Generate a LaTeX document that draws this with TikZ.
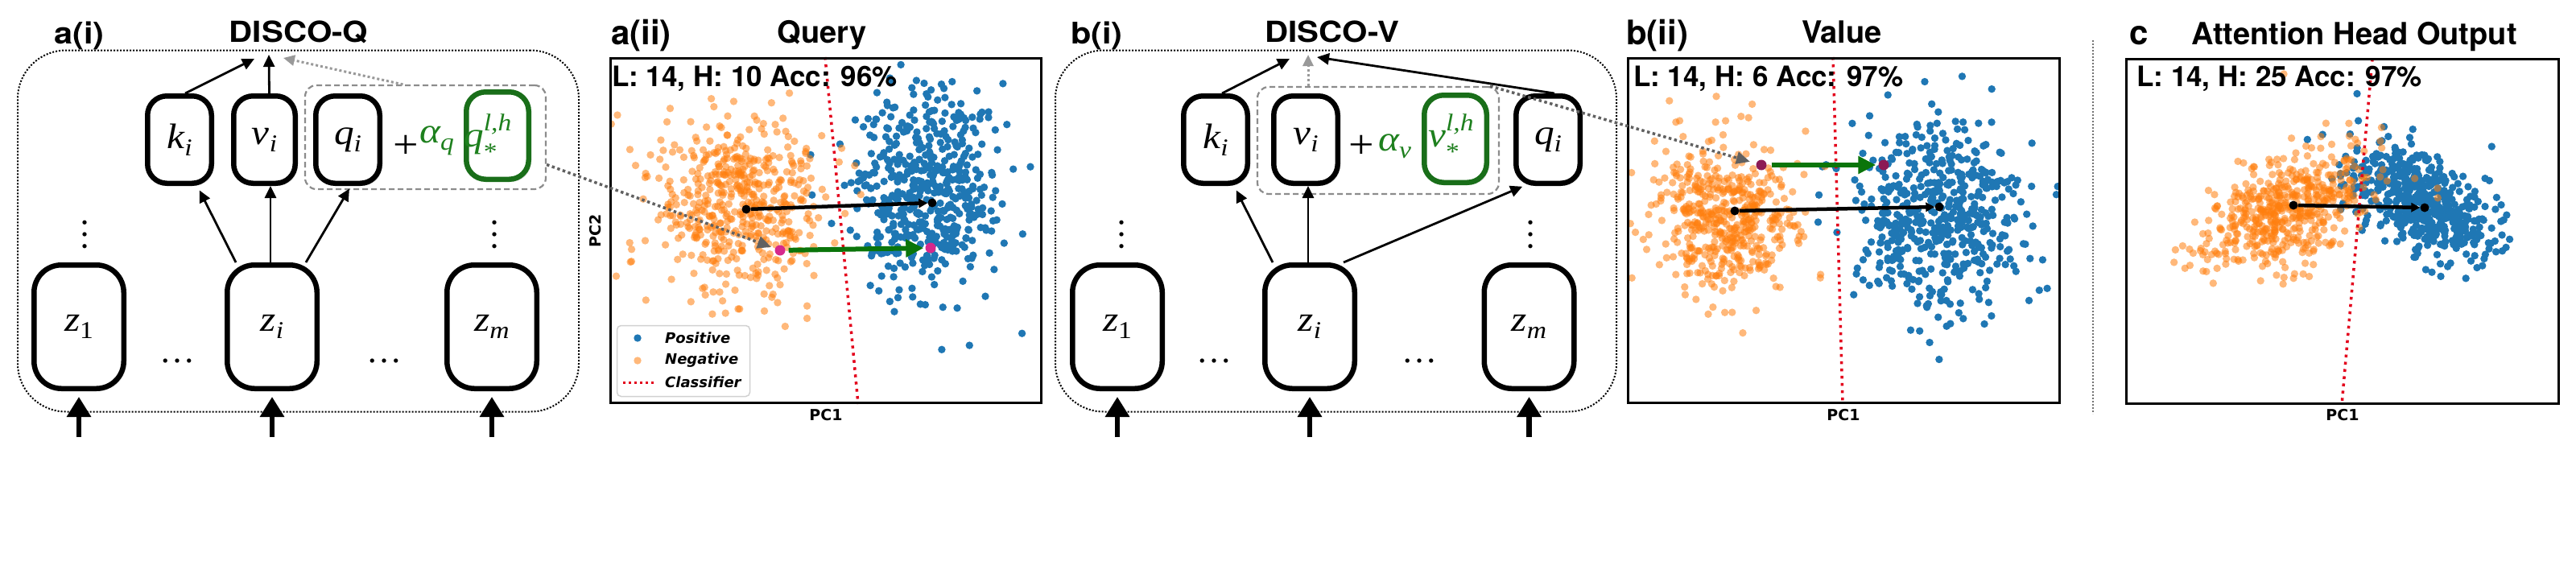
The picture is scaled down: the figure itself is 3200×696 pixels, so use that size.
\documentclass[tikz,border=0pt]{standalone}
\usepackage{fontspec}
\usepackage{graphicx}
\setmainfont{Liberation Serif}
\newfontfamily\hv{TeX Gyre Heros}
\newfontfamily\dv{DejaVu Sans}
\usetikzlibrary{arrows.meta,shadows,calc}
\definecolor{tabblue}{HTML}{1F77B4}
\definecolor{taborange}{HTML}{FF7F0E}
\definecolor{dgreen}{RGB}{25,110,25}
\definecolor{tgreen}{RGB}{30,128,30}
\definecolor{mplgreen}{HTML}{0A750A}
\definecolor{pinkA}{HTML}{D6288C}
\definecolor{pinkB}{HTML}{8C1A55}
\definecolor{clsred}{HTML}{E3001B}
\newcommand\fs[1]{\fontsize{#1}{#1}\selectfont}
\newcommand\hs[1]{\scalebox{1.12}[1]{#1}}
\newcommand\mk[2]{\hs{#1\raisebox{-9pt}{\fs{30}#2}}}
\newcommand\skv[1]{\hs{#1\rlap{\raisebox{20pt}{\fs{30}l,h}}\raisebox{-16pt}{\fs{30}\upshape *}}}
\newcommand{\scattercluster}[8]{%
 \foreach \clI in {1,...,#7}{%
  \pgfmathsetmacro{\clR}{sqrt(-2*ln(max(rnd,0.0005)))}%
  \pgfmathsetmacro{\clT}{360*rnd}%
  \pgfmathsetmacro{\clX}{#1+\clR*cos(\clT)*(#3)+\clR*sin(\clT)*(#5)}%
  \pgfmathsetmacro{\clY}{#2+\clR*cos(\clT)*(#4)+\clR*sin(\clT)*(#6)}%
  \fill[#8] (\clX,\clY) circle (4.7);
 }%
}
\begin{document}
\begin{tikzpicture}[x=1pt,y=-1pt,
 box/.style={draw=black, line width=6.5pt, fill=white, rounded corners=24pt, inner sep=0pt,
   minimum width=79.5pt, minimum height=108.5pt, font=\fs{44}\itshape,
   drop shadow={opacity=0.18, shadow xshift=3pt, shadow yshift=-3pt}},
 zbox/.style={box, rounded corners=34pt, minimum width=111.5pt, minimum height=153.5pt},
 gbox/.style={box, draw=dgreen, minimum width=77.5pt},
 container/.style={draw=black, line width=2pt, dash pattern=on 2pt off 2pt, rounded corners=60pt, inner sep=0pt},
 dashbox/.style={draw=black!45, line width=2.2pt, dash pattern=on 7pt off 4pt, rounded corners=14pt, inner sep=0pt},
 thinarr/.style={line width=2.8pt, -{Triangle[length=15pt,width=14pt]}},
 inarr/.style={line width=6.5pt, -{Triangle[length=25pt,width=29pt]}, shorten >=7pt},
 grayarr/.style={draw=black!40, line width=3pt, dash pattern=on 3pt off 3pt, -{Triangle[length=14pt,width=13pt]}},
 gconn/.style={draw=black!62, line width=3.5pt, dash pattern=on 3.5pt off 3.5pt, -{Triangle[length=17pt,width=15pt]}},
 plotframe/.style={draw=black, line width=3pt, inner sep=0pt},
 cls/.style={draw=clsred, line width=3.5pt, dash pattern=on 3.5pt off 5.5pt},
 bdot/.style={circle, fill=black, inner sep=0pt, minimum size=11pt},
 barr/.style={line width=4.5pt, -{Triangle[length=11pt,width=11pt]}},
 pdot/.style={circle, inner sep=0pt, minimum size=13pt},
 garr/.style={draw=mplgreen, line width=6pt, -{Triangle[length=22pt,width=21pt]}},
 ttl/.style={font=\hv\bfseries\fs{38}, inner sep=0pt},
 dttl/.style={font=\hv\bfseries\fs{36}, inner sep=0pt},
 plab/.style={font=\hv\bfseries\fs{42}, inner sep=0pt},
 stat/.style={font=\hv\bfseries\fs{35}, inner sep=0pt},
 axlab/.style={font=\dv\bfseries\fs{19}, inner sep=0pt},
 legtxt/.style={font=\dv\bfseries\itshape\fs{18}, inner sep=0pt, anchor=west},
 sym/.style={font=\fs{44}, inner sep=0pt},
 gtxt/.style={font=\fs{44}\itshape, text=tgreen, inner sep=0pt, anchor=base west},
 bluept/.style={fill=tabblue},
 orpt/.style={fill=taborange, fill opacity=0.55}
]
\useasboundingbox (0,0) rectangle (3200,696);
\fill[white] (0,0) rectangle (3200,696);
\pgfmathsetseed{7}

% ================= a(i) =================
\node[plab, font=\hv\bfseries\fs{37}, anchor=base west] (labai) at (67,54) {\hs{a(i)}};
\node[dttl, anchor=base] (tq) at (371,52) {\hs{DISCO-Q}};
\node[container, minimum width=697pt, minimum height=449pt] (conta) at (370.5,287) {};
\node[dashbox, minimum width=299pt, minimum height=129pt] (adash) at (528.5,170.5) {};
\node[box] (ka) at (223,173.5) {\mk{k}{i}};
\node[box, minimum width=76.5pt] (va) at (328.5,173.5) {\mk{v}{i}};
\node[box] (qa) at (432,173.5) {\mk{q}{i}};
\node[gbox] (sa) at (618,168.5) {};
\node[gtxt] (sat) at (576,182) {\skv{q}};
\node[sym, font=\fs{50}] (pa) at (504,182) {\hs{+}};
\node[gtxt] (aq) at (521,177) {\mk{α}{q}};
\node[zbox] (z1a) at (98,406) {\mk{z}{\upshape 1}};
\node[zbox] (zia) at (338,406) {\mk{z}{i}};
\node[zbox] (zma) at (611,406) {\mk{z}{m}};
\node[sym, rotate=90, anchor=base] (vd1a) at (107,291) {…};
\node[sym, rotate=90, anchor=base] (vd2a) at (616,291) {…};
\node[sym, anchor=base] (hd1a) at (220,450) {…};
\node[sym, anchor=base] (hd2a) at (477,450) {…};
\coordinate (aK) at (316,73);
\coordinate (aV) at (334,68);
\coordinate (aG) at (352,72);
\draw[thinarr] ([xshift=7pt]ka.north) -- (aK);
\draw[thinarr] ([xshift=6pt]va.north) -- (aV);
\draw[grayarr] ([xshift=-28pt]adash.north) -- (aG);
\draw[thinarr, shorten >=6pt] ([xshift=-45pt]zia.north) -- ([xshift=22pt]ka.south);
\draw[thinarr] ($(zia.north)+(-2,0)$) -- ($(zia.north |- va.south)+(-2,0)$);
\draw[thinarr, shorten >=4pt] ([xshift=42pt]zia.north) -- ([xshift=4pt]qa.south);
\coordinate (in1a) at (98,543);
\coordinate (in2a) at (338,543);
\coordinate (in3a) at (611,543);
\draw[inarr] (in1a) -- (z1a.south);
\draw[inarr] (in2a) -- (zia.south);
\draw[inarr] (in3a) -- (zma.south);

% ================= a(ii) =================
\node[plab, anchor=base west] (labaii) at (759,55) {a(ii)};
\node[ttl, anchor=base] (tquery) at (1021,53) {Query};
\begin{scope}
 \clip (758.5,72.5) rectangle (1293.5,500.5);
 \scattercluster{1150}{238}{45}{0}{0}{62}{520}{bluept}
 \scattercluster{920}{258}{54}{0}{0}{56}{520}{orpt}
\end{scope}
\draw[cls] (1025,71) -- (1066,502);
\node[plotframe, minimum width=535pt, minimum height=428pt] (pfa) at (1026,286.5) {};
\node[stat, anchor=base west] (sta) at (760,107) {L: 14, H: 10 Acc: 96\%};
\node[axlab, anchor=base] (pc1a) at (1026,522) {PC1};
\node[axlab, rotate=90] (pc2a) at (740,287) {PC2};
\node[draw=black!18, line width=1.5pt, rounded corners=5pt, fill=white, fill opacity=0.8, minimum width=165pt, minimum height=88pt, inner sep=0pt] (lega) at (849,448.5) {};
\fill[tabblue] (792,420) circle (4.7);
\fill[taborange, fill opacity=0.55] (792,448) circle (4.7);
\draw[cls, line width=3pt, dash pattern=on 3pt off 4pt] (774,475) -- (812,475);
\node[legtxt] (lg1) at (826,420) {Positive};
\node[legtxt] (lg2) at (826,448) {Negative};
\node[legtxt] (lg3) at (826,475) {Classifier};
\node[bdot] (a2s) at (927,260) {};
\node[bdot] (a2e) at (1158,252) {};
\draw[barr] (a2s) -- (a2e);
\node[pdot, fill=pinkA] (pa1) at (969,311) {};
\node[pdot, fill=pinkA] (pa2) at (1156,308) {};
\draw[garr, shorten <=4pt, shorten >=2pt] (pa1) -- (pa2);
\draw[gconn, shorten >=5pt] ([yshift=-34pt]adash.east) -- (pa1);

% ================= b(i) =================
\node[plab, font=\hv\bfseries\fs{37}, anchor=base west] (labbi) at (1330,54) {\hs{b(i)}};
\node[dttl, anchor=base] (tv) at (1655,52) {\hs{DISCO-V}};
\node[container, minimum width=697pt, minimum height=449pt] (contb) at (1659.5,287) {};
\node[dashbox, minimum width=300pt, minimum height=133pt] (bdash) at (1712,174.5) {};
\node[box] (kb) at (1510,173.5) {\mk{k}{i}};
\node[box] (vb) at (1622,173.5) {\mk{v}{i}};
\node[gbox] (sb) at (1808,172.5) {};
\node[gtxt] (sbt) at (1774,182) {\skv{v}};
\node[sym, font=\fs{50}] (pb) at (1691,182) {\hs{+}};
\node[gtxt] (av) at (1712,187) {\mk{α}{v}};
\node[box] (qb) at (1923,173.5) {\mk{q}{i}};
\node[zbox] (z1b) at (1388,406) {\mk{z}{\upshape 1}};
\node[zbox] (zib) at (1627,406) {\mk{z}{i}};
\node[zbox] (zmb) at (1899.5,406) {\mk{z}{m}};
\node[sym, rotate=90, anchor=base] (vd1b) at (1395,291) {…};
\node[sym, rotate=90, anchor=base] (vd2b) at (1903,291) {…};
\node[sym, anchor=base] (hd1b) at (1508,450) {…};
\node[sym, anchor=base] (hd2b) at (1763,450) {…};
\coordinate (bK) at (1602,73);
\coordinate (bV) at (1625,68);
\coordinate (bQ) at (1636,71);
\draw[thinarr] ([xshift=8pt]kb.north) -- (bK);
\draw[grayarr] ([xshift=-87pt]bdash.north) -- (bV);
\draw[thinarr] ([xshift=8pt]qb.north) -- (bQ);
\draw[thinarr, shorten >=6pt] ([xshift=-46pt]zib.north) -- ([xshift=23pt]kb.south);
\draw[thinarr] ($(zib.north)+(-2,0)$) -- ($(zib.north |- vb.south)+(-2,0)$);
\draw[thinarr, shorten >=2pt] ([xshift=42pt]zib.north) -- ([xshift=-30pt]qb.south);
\coordinate (in1b) at (1388,543);
\coordinate (in2b) at (1627,543);
\coordinate (in3b) at (1899.5,543);
\draw[inarr] (in1b) -- (z1b.south);
\draw[inarr] (in2b) -- (zib.south);
\draw[inarr] (in3b) -- (zmb.south);

% ================= b(ii) =================
\node[plab, anchor=base west] (labbii) at (2020,55) {b(ii)};
\node[ttl, anchor=base] (tval) at (2288,53) {Value};
\begin{scope}
 \clip (2022.5,72.5) rectangle (2558.5,500.5);
 \scattercluster{2408}{262}{50}{0}{0}{60}{520}{bluept}
 \scattercluster{2143}{270}{44}{0}{0}{46}{500}{orpt}
\end{scope}
\draw[cls] (2277,71) -- (2289,502);
\node[plotframe, minimum width=536pt, minimum height=428pt] (pfb) at (2290.5,286.5) {};
\node[stat, anchor=base west] (stb) at (2029,107) {L: 14, H: 6 Acc: 97\%};
\node[axlab, anchor=base] (pc1b) at (2290,522) {PC1};
\node[bdot] (b2s) at (2155,262) {};
\node[bdot] (b2e) at (2409,257) {};
\draw[barr] (b2s) -- (b2e);
\node[pdot, fill=pinkB] (pb1) at (2188,205) {};
\node[pdot, fill=pinkB] (pb2) at (2340,205) {};
\draw[garr, shorten <=6pt, shorten >=3pt] (pb1) -- (pb2);
\draw[gconn, shorten >=8pt] ([xshift=-12pt]bdash.north east) -- (pb1);

% separator
\draw[draw=black!55, line width=2pt, dash pattern=on 2pt off 2pt] (2600,50) -- (2600,514);

% ================= c =================
\node[plab, anchor=base west] (labc) at (2645,55) {c};
\node[ttl, anchor=base] (tatt) at (2924.5,55) {Attention Head Output};
\begin{scope}
 \clip (2641.5,73.5) rectangle (3178.5,501.5);
 \scattercluster{3010}{252}{42}{28}{-16}{24}{520}{bluept}
 \scattercluster{2842}{262}{50}{-22}{12}{28}{520}{orpt}
 \fill[orpt] (2837,92) circle (4.7);
\end{scope}
\draw[cls] (2947,73) -- (2909,503);
\node[plotframe, minimum width=537pt, minimum height=428pt] (pfc) at (2910,287.5) {};
\node[stat, anchor=base west] (stc) at (2654,107) {L: 14, H: 25 Acc: 97\%};
\node[axlab, anchor=base] (pc1c) at (2910,522) {PC1};
\node[bdot] (c2s) at (2849,255) {};
\node[bdot] (c2e) at (3012,258) {};
\draw[barr] (c2s) -- (c2e);
\end{tikzpicture}
\end{document}
